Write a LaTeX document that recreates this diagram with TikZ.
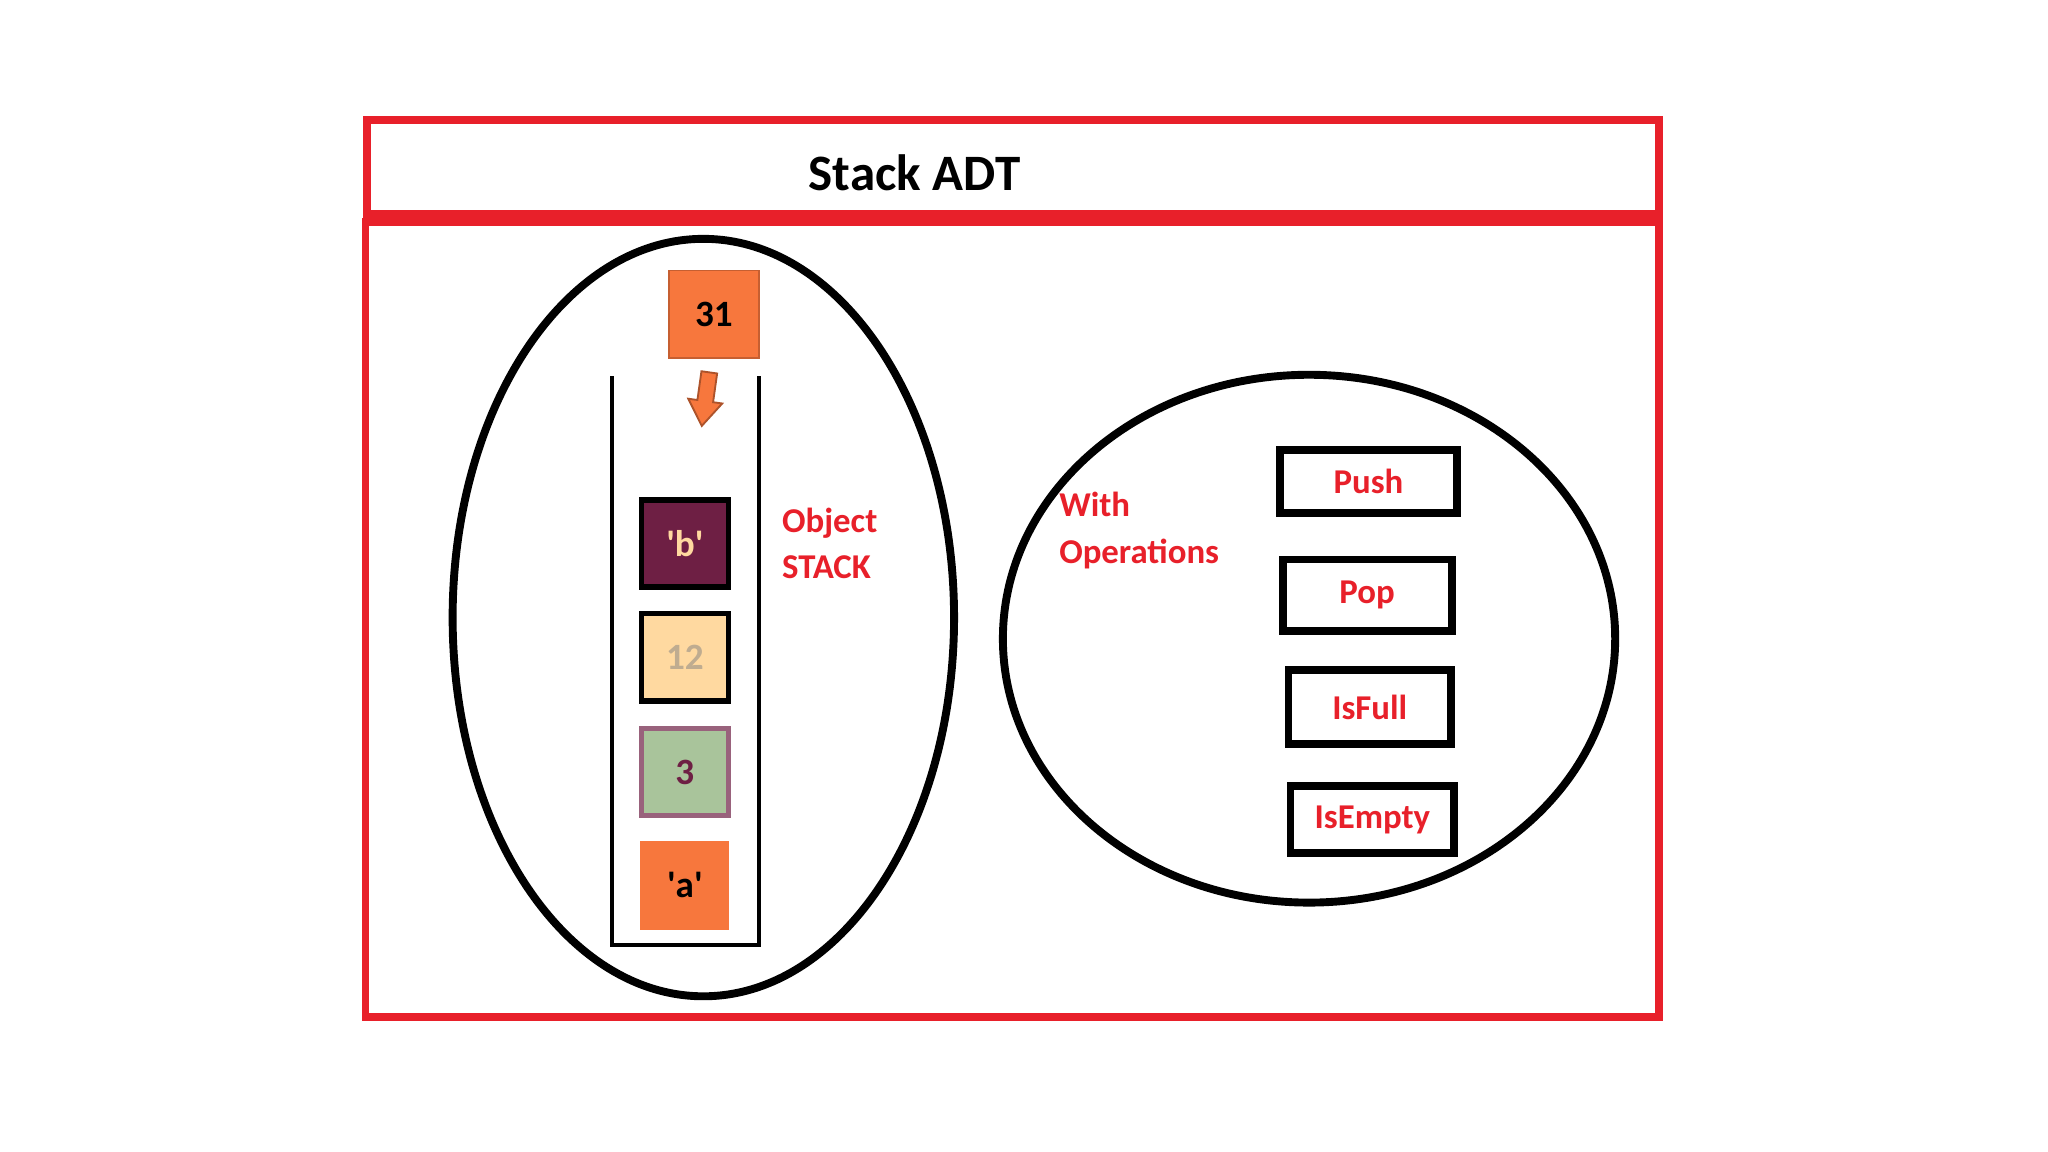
\documentclass[tikz,border=0pt]{standalone}
\usepackage{fontspec}
\setmainfont{Carlito}
\usetikzlibrary{arrows.meta}
\definecolor{rd}{HTML}{E8202A}
\definecolor{org}{HTML}{F7773D}
\definecolor{plum}{HTML}{6E1F44}
\definecolor{tan}{HTML}{FFD9A0}
\definecolor{sage}{HTML}{A9C49B}
\tikzset{
  frame/.style={draw=rd,line width=1.7pt},
  oval/.style={draw=black,line width=1.7pt},
  item/.style={draw=black,line width=1.2pt,minimum width=0.66cm,minimum height=0.66cm,inner sep=0pt,font=\bfseries\fontsize{8}{9}\selectfont},
  op/.style={draw=black,line width=1.7pt,inner sep=0pt,text=rd,font=\bfseries\fontsize{7.5}{9}\selectfont},
  lbl/.style={text=rd,font=\bfseries\fontsize{7.5}{9}\selectfont,align=left,anchor=west,inner sep=0pt}
}
\begin{document}
\begin{tikzpicture}[x=0.01cm,y=-0.01cm]
\useasboundingbox (0,0) rectangle (1552,873);
\fill[white] (0,0) rectangle (1552,873);
\draw[frame] (278,91) rectangle (1257,162);
\node[font=\bfseries\fontsize{11}{13}\selectfont] (title) at (693,131) {Stack ADT};
\draw[frame] (277,168) rectangle (1257,771);
\draw[oval] (533,468) ellipse [x radius=190,y radius=287];
\draw[oval] (992,484) ellipse [x radius=232,y radius=200];
\coordinate (cl) at (464,285); \coordinate (cr) at (575,285);
\draw[line width=0.8pt] (cl) -- (464,716) -- (575,716) -- (cr);
\node[item,draw=org!80!black,line width=0.4pt,fill=org,minimum width=0.68cm] (n31) at (541,238) {31};
\node[item,fill=plum,text=tan] (nb) at (519,412) {\textquotesingle b\textquotesingle};
\node[item,fill=tan,text=tan!50!gray] (n12) at (519,498) {12};
\node[item,fill=sage,draw=plum!70,text=plum] (n3) at (519,585) {3};
\node[item,fill=org,line width=0.4pt,draw=org] (na) at (519,671) {\textquotesingle a\textquotesingle};
\draw[draw=org!70!black,fill=org,line width=0.4pt,rotate around={-8:(535,300)}]
  (529,282) -- (541,282) -- (541,304) -- (548,304) -- (535,323) -- (522,304) -- (529,304) -- cycle;
\node[lbl] (obj) at (592,412) {Object\\[1pt]STACK};
\node[lbl] (ops) at (802,402) {With\\[1pt]Operations};
\node[op,minimum width=1.34cm,minimum height=0.48cm] (push) at (1037,365) {Push};
\node[op,minimum width=1.28cm,minimum height=0.54cm] (pop) at (1036,451) {Pop};
\node[op,minimum width=1.23cm,minimum height=0.56cm] (full) at (1038,536) {IsFull};
\node[op,minimum width=1.24cm,minimum height=0.51cm] (empty) at (1040,621) {IsEmpty};
\end{tikzpicture}
\end{document}
